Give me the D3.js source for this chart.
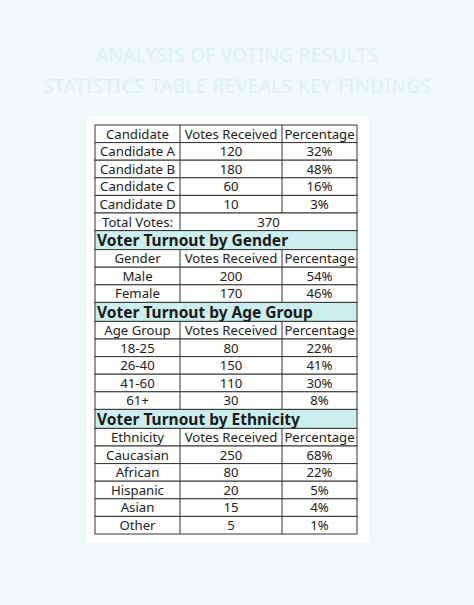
<!DOCTYPE html>
<html><head><meta charset="utf-8">
<script src="https://cdn.jsdelivr.net/npm/d3@7"></script>
<style>body{margin:0;background:#eff9f9;}</style>
</head><body><div class="chart"></div>
<script>
const WIDTH = 474;
const HEIGHT = 605;

var titleLines = ["ANALYSIS OF VOTING RESULTS", "STATISTICS TABLE REVEALS KEY FINDINGS"];

var candidates = ["Candidate A", "Candidate B", "Candidate C", "Candidate D"];
var candidateVotes = [120, 180, 60, 10];
var candidatePct = ["32%", "48%", "16%", "3%"];
var totalVotes = 370;

var genders = ["Male", "Female"];
var genderVotes = [200, 170];
var genderPct = ["54%", "46%"];

var ageGroups = ["18-25", "26-40", "41-60", "61+"];
var ageVotes = [80, 150, 110, 30];
var agePct = ["22%", "41%", "30%", "8%"];

var ethnicities = ["Caucasian", "African", "Hispanic", "Asian", "Other"];
var ethVotes = [250, 80, 20, 15, 5];
var ethPct = ["68%", "22%", "5%", "4%", "1%"];

// flatten into rows
var rows = [];
var block = function (head, cats, votes, pct) {
    rows.push({type: "cells", cells: [head, "Votes Received", "Percentage"]});
    cats.forEach(function (c, i) {
        rows.push({type: "cells", cells: [c, votes[i], pct[i]]});
    });
};
block("Candidate", candidates, candidateVotes, candidatePct);
rows.push({type: "total", cells: ["Total Votes:", totalVotes]});
rows.push({type: "section", text: "Voter Turnout by Gender"});
block("Gender", genders, genderVotes, genderPct);
rows.push({type: "section", text: "Voter Turnout by Age Group"});
block("Age Group", ageGroups, ageVotes, agePct);
rows.push({type: "section", text: "Voter Turnout by Ethnicity"});
block("Ethnicity", ethnicities, ethVotes, ethPct);

var rowH = 17.6, secH = 19;
var y0 = 125;
var acc = y0;
rows.forEach(function (r) {
    r.h = r.type === "section" ? secH : rowH;
    r.y = acc;
    acc += r.h;
});

var colEdges = [95, 180, 282, 357];

var svg = d3.select('.chart').append('svg')
    .attr('width', WIDTH)
    .attr('height', HEIGHT)
    .style('font-family', '"Noto Sans", sans-serif');

svg.append('rect').attr('width', WIDTH).attr('height', HEIGHT).attr('fill', '#eff9f9');

svg.selectAll('text.title')
    .data(titleLines)
    .enter().append('text')
    .attr('class', 'title')
    .attr('x', WIDTH / 2)
    .attr('y', function (d, i) { return 62 + i * 31; })
    .attr('text-anchor', 'middle')
    .attr('font-size', 19)
    .attr('textLength', function (d, i) { return i ? 388 : 282; })
    .attr('fill', '#dcf2f2')
    .text(function (d) { return d; });

svg.append('rect').attr('x', 87).attr('y', 116)
    .attr('width', 282).attr('height', acc - 116 + 9).attr('fill', '#ffffff');

var g = svg.selectAll('g.row').data(rows).enter().append('g')
    .attr('class', 'row')
    .attr('transform', function (d) { return "translate(0," + d.y + ")"; });

g.append('rect')
    .attr('x', colEdges[0]).attr('width', colEdges[3] - colEdges[0])
    .attr('height', function (d) { return d.h; })
    .attr('fill', function (d) { return d.type === "section" ? "#cdeeee" : "#ffffff"; })
    .attr('stroke', '#333').attr('stroke-width', 1);

g.filter(function (d) { return d.type !== "section"; }).each(function (d) {
    var row = d3.select(this);
    var edges = d.type === "total" ? [colEdges[0], colEdges[1], colEdges[3]] : colEdges;
    edges.slice(1, -1).forEach(function (e) {
        row.append('line').attr('x1', e).attr('x2', e).attr('y1', 0).attr('y2', d.h)
            .attr('stroke', '#333');
    });
    d.cells.forEach(function (c, i) {
        row.append('text')
            .attr('x', (edges[i] + edges[i + 1]) / 2)
            .attr('y', d.h / 2 + 4.8)
            .attr('text-anchor', 'middle')
            .attr('font-size', 13.2)
            .attr('fill', '#222')
            .text(c);
    });
});

g.filter(function (d) { return d.type === "section"; })
    .append('text')
    .attr('x', 97).attr('y', secH / 2 + 6)
    .attr('font-size', 15.5).attr('font-weight', 'bold').attr('fill', '#1a1a1a')
    .text(function (d) { return d.text; });
</script></body></html>
